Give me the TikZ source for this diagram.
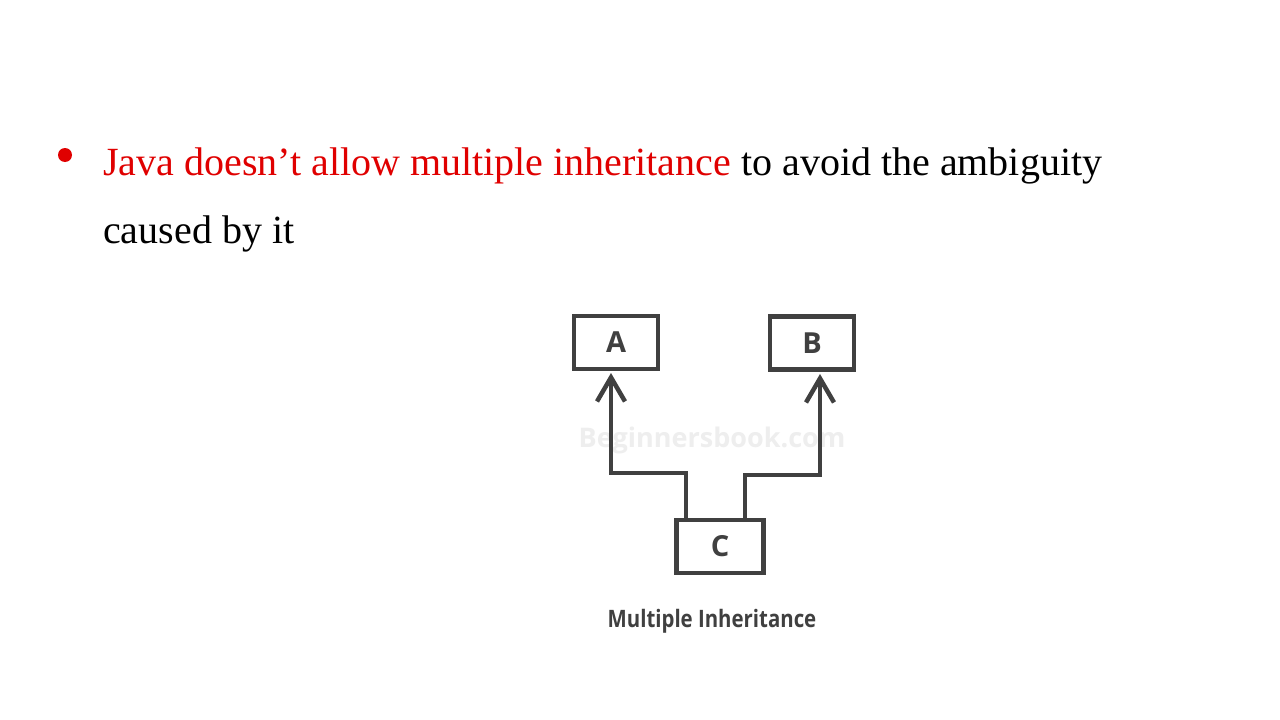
\documentclass[tikz,border=0pt]{standalone}
\usepackage{fontspec}
\setmainfont{Liberation Serif}
\newfontfamily\diafont{Open Sans}
\usetikzlibrary{arrows.meta}
\definecolor{slidered}{HTML}{E00000}
\definecolor{boxgray}{HTML}{404040}
\definecolor{wmgray}{HTML}{EEEEEE}
\tikzset{
  cls/.style={draw=boxgray, line width=4.5pt, minimum width=84pt, minimum height=53pt, inner sep=0pt, font=\diafont\bfseries\fontsize{29}{33}\selectfont, text=boxgray},
  inh/.style={draw=boxgray, line width=4.5pt, -{Straight Barb[length=24pt,width=28pt,line width=4.5pt]}},
  bodytext/.style={anchor=base west, inner sep=0pt, font=\fontsize{40}{48}\selectfont}
}
\begin{document}
\begin{tikzpicture}[x=1pt,y=-1pt]
\useasboundingbox[fill=white] (0,0) rectangle (1280,720);
\fill[slidered] (65,155) circle (7);
\node[bodytext] (l1) at (103,175) {\textcolor{slidered}{Java doesn’t allow multiple inheritance} to avoid the ambiguity};
\node[bodytext] (l2) at (103,243) {caused by it};
\node[text=wmgray, font=\diafont\bfseries\fontsize{27}{31}\selectfont] (wm) at (712,440) {Beginnersbook.com};
\node[cls] (A) at (616,342.5) {A};
\node[cls] (B) at (812,343) {B};
\node[cls, minimum width=87pt] (C) at (720,546.5) {C};
\draw[inh] ([xshift=-34pt]C.north) |- (611,473) -- (611,373);
\draw[inh] ([xshift=25pt]C.north) |- (820,475) -- (820,374);
\node[text=boxgray, font=\diafont\bfseries\fontsize{24}{28}\selectfont] (cap) at (712,621) {\scalebox{0.85}[1]{Multiple Inheritance}};
\end{tikzpicture}
\end{document}
